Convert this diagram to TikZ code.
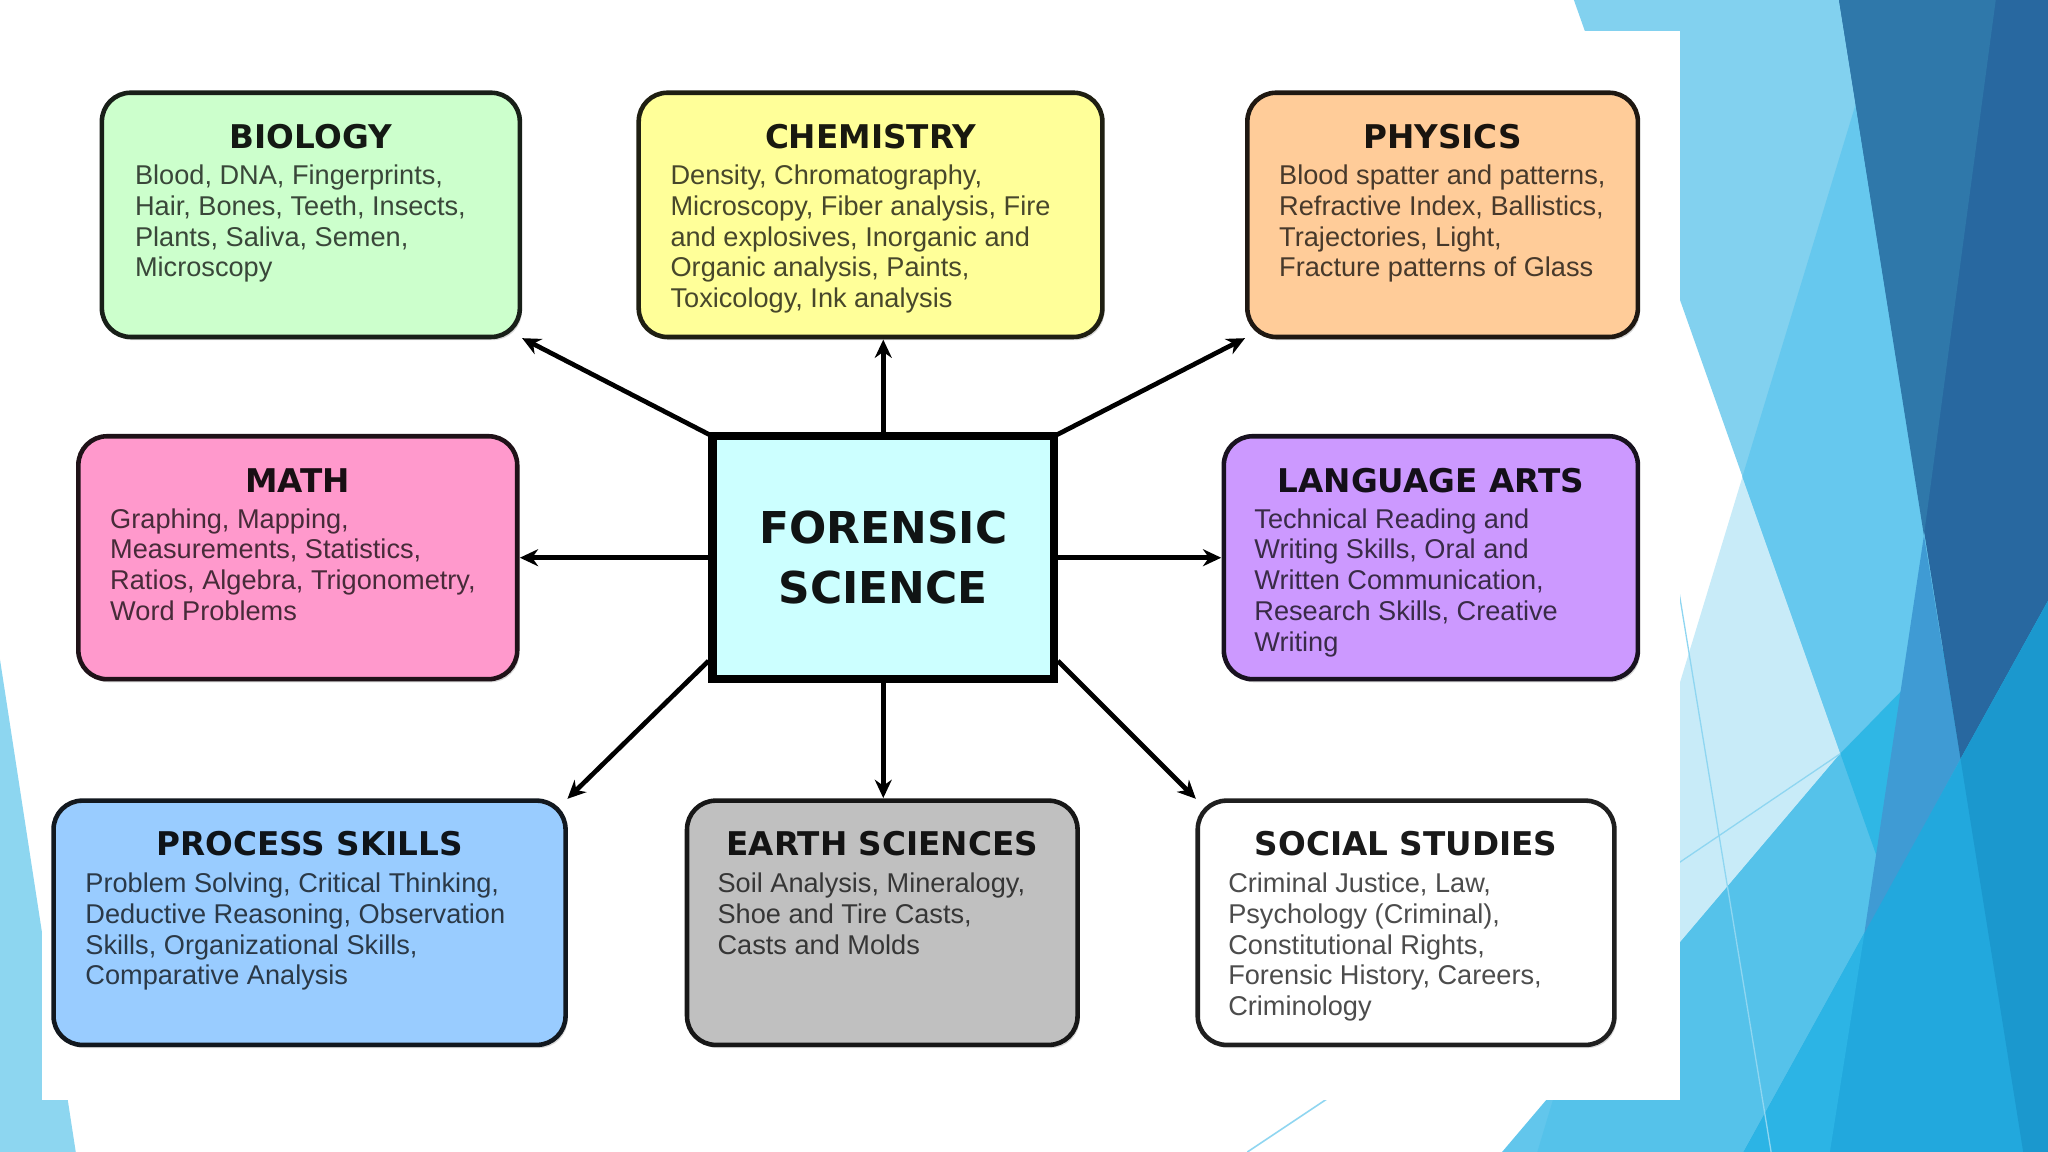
\documentclass[tikz,border=0pt]{standalone}
\usepackage{fontspec}
\setmainfont{Liberation Sans}
\newfontfamily\titlefont{DejaVu Sans}
\usetikzlibrary{arrows.meta,calc,shadows}
\definecolor{cbio}{RGB}{204,255,204}
\definecolor{cchem}{RGB}{255,255,153}
\definecolor{cphys}{RGB}{255,204,153}
\definecolor{cmath}{RGB}{255,153,204}
\definecolor{clang}{RGB}{204,153,255}
\definecolor{cproc}{RGB}{153,204,255}
\definecolor{cearth}{RGB}{192,192,192}
\definecolor{csoc}{RGB}{255,255,255}
\definecolor{ccen}{RGB}{204,255,255}
\definecolor{bgpale}{HTML}{C8EBF8}
\definecolor{bglight}{HTML}{82D1EF}
\definecolor{bgmid}{HTML}{66C8EE}
\definecolor{bgtthree}{HTML}{62C6EC}
\definecolor{bgttwo}{HTML}{55C2EA}
\definecolor{bgcyan}{HTML}{2FB7E5}
\definecolor{bgsteel}{HTML}{3F9BD4}
\definecolor{bgdarka}{HTML}{2F78AA}
\definecolor{bgdarkb}{HTML}{2868A0}
\definecolor{bgbig}{HTML}{22A8DD}
\definecolor{bgbigd}{HTML}{1B98CE}
\definecolor{bgbigl}{HTML}{2CB4E5}
\definecolor{bgleft}{HTML}{8DD6F0}
\definecolor{bgline}{HTML}{8FD6F1}
\begin{document}
\begin{tikzpicture}[x=0.5pt,y=-0.5pt,
  box/.style={draw, rounded corners=11pt, line width=1.75pt, inner sep=0pt, outer sep=0pt,
    drop shadow={shadow xshift=0.8pt,shadow yshift=-1.2pt,opacity=0.3}},
  ttl/.style={anchor=base, inner sep=0pt, font=\titlefont\bfseries\fontsize{12.5pt}{14pt}\selectfont},
  body/.style={anchor=north west, inner sep=0pt, align=left, font=\fontsize{10.4pt}{11.75pt}\selectfont},
  arr/.style={line width=1.8pt, -{Stealth[length=7pt,width=6.5pt]}, shorten >=1pt}]
% ---------- slide background ----------
\useasboundingbox (0,0) rectangle (1568,882);
\fill[white] (0,0) rectangle (1568,882);
\fill[bgpale] (1445,0) -- (1568,0) -- (1568,882) -- (1177,882) -- cycle;
\fill[bglight] (1205,0) -- (1568,0) -- (1568,882) -- (1517,882) -- cycle;
\fill[bgmid] (1445,0) -- (1568,0) -- (1568,882) -- (1517,882) -- (1334,365) -- cycle;
\fill[bgtthree] (1150,882) -- (1409,577) -- (1568,414) -- (1568,882) -- cycle;
\fill[bgttwo] (1191.7,833) -- (1409,577) -- (1568,414) -- (1568,882) -- (1177,882) -- cycle;
\fill[bgcyan] (1409,577) -- (1568,414) -- (1568,882) -- (1517,882) -- cycle;
\fill[bgsteel] (1473,410) -- (1501,581) -- (1427,717) -- cycle;
\fill[bgdarkb] (1408,0) -- (1568,0) -- (1568,460) -- (1501,581) -- cycle;
\fill[bgdarka] (1408,0) -- (1528,0) -- (1473,410) -- cycle;
\fill[bgbig] (1335,882) -- (1568,460) -- (1568,882) -- cycle;
\fill[bgbigd] (1501,581) -- (1568,460) -- (1568,882) -- (1549,882) -- cycle;
\fill[bgbigl] (1335,882) -- (1427.5,714) -- (1401,882) -- cycle;
\draw[bgline, line width=0.5pt] (1280,420) -- (1356,882);
\draw[bgline, line width=0.5pt] (1270,671) -- (1409,577);
\draw[bgline, line width=0.6pt] (1030,832) -- (955,882);
\fill[bgleft] (0,505) -- (58,882) -- (0,882) -- cycle;
% white panel
\fill[white] (32,24) rectangle (1286,842);
% ---------- boxes ----------
\node[box, fill=cbio, draw=cbio!12!black, minimum width=160pt, minimum height=93.5pt] (bio) at (238,164.5) {};
\node[box, fill=cchem, draw=cchem!12!black, minimum width=177.5pt, minimum height=93.5pt] (chem) at (666.5,164.5) {};
\node[box, fill=cphys, draw=cphys!12!black, minimum width=149.5pt, minimum height=93.5pt] (phys) at (1104.5,164.5) {};
\node[box, fill=cmath, draw=cmath!12!black, minimum width=168pt, minimum height=93pt] (math) at (228,427) {};
\node[box, fill=clang, draw=clang!12!black, minimum width=158.5pt, minimum height=93pt] (lang) at (1095.5,427) {};
\node[box, fill=cproc, draw=cproc!12!black, minimum width=196pt, minimum height=93.5pt] (proc) at (237,706.5) {};
\node[box, fill=cearth, draw=cearth!12!black, minimum width=149.5pt, minimum height=93.5pt] (earth) at (675.5,706.5) {};
\node[box, fill=csoc, draw=csoc!12!black, minimum width=159.5pt, minimum height=93.5pt] (soc) at (1076.5,706.5) {};
% titles
\node[ttl, text=cbio!10!black] (bioT) at ($(bio.north)+(0,43)$) {BIOLOGY};
\node[ttl, text=cchem!10!black] (chemT) at ($(chem.north)+(0,43)$) {CHEMISTRY};
\node[ttl, text=cphys!10!black] (physT) at ($(phys.north)+(0,43)$) {PHYSICS};
\node[ttl, text=cmath!10!black] (mathT) at ($(math.north)+(0,43)$) {MATH};
\node[ttl, text=clang!10!black] (langT) at ($(lang.north)+(0,43)$) {LANGUAGE ARTS};
\node[ttl, text=cproc!10!black] (procT) at ($(proc.north)+(0,42)$) {PROCESS SKILLS};
\node[ttl, text=cearth!10!black] (earthT) at ($(earth.north)+(0,42)$) {EARTH SCIENCES};
\node[ttl, text=csoc!10!black] (socT) at ($(soc.north)+(0,42)$) {SOCIAL STUDIES};
% bodies
\node[body, text=cbio!28!black] (bioB) at ($(bio.north west)+(25,55)$)
  {Blood, DNA, Fingerprints,\\Hair, Bones, Teeth, Insects,\\Plants, Saliva, Semen,\\Microscopy};
\node[body, text=cchem!28!black] (chemB) at ($(chem.north west)+(24,55)$)
  {Density, Chromatography,\\Microscopy, Fiber analysis, Fire\\and explosives, Inorganic and\\Organic analysis, Paints,\\Toxicology, Ink analysis};
\node[body, text=cphys!28!black] (physB) at ($(phys.north west)+(24,55)$)
  {Blood spatter and patterns,\\Refractive Index, Ballistics,\\Trajectories, Light,\\Fracture patterns of Glass};
\node[body, text=cmath!28!black] (mathB) at ($(math.north west)+(24,55)$)
  {Graphing, Mapping,\\Measurements, Statistics,\\Ratios, Algebra, Trigonometry,\\Word Problems};
\node[body, text=clang!28!black] (langB) at ($(lang.north west)+(23,55)$)
  {Technical Reading and\\Writing Skills, Oral and\\Written Communication,\\Research Skills, Creative\\Writing};
\node[body, text=cproc!28!black] (procB) at ($(proc.north west)+(24,55)$)
  {Problem Solving, Critical Thinking,\\Deductive Reasoning, Observation\\Skills, Organizational Skills,\\Comparative Analysis};
\node[body, text=cearth!28!black] (earthB) at ($(earth.north west)+(23,55)$)
  {Soil Analysis, Mineralogy,\\Shoe and Tire Casts,\\Casts and Molds};
\node[body, text=csoc!30!black] (socB) at ($(soc.north west)+(23,55)$)
  {Criminal Justice, Law,\\Psychology (Criminal),\\Constitutional Rights,\\Forensic History, Careers,\\Criminology};
% centre
\node[draw, line width=3.2pt, fill=ccen, minimum width=130.75pt, minimum height=93pt,
  inner sep=0pt, outer sep=0pt, align=center,
  font=\titlefont\bfseries\fontsize{16.8pt}{23pt}\selectfont, text=ccen!8!black] (c) at (676.25,427) {FORENSIC\\SCIENCE};
% ---------- arrows ----------
\coordinate (cl) at ($(c.south west)+(-3,-14)$);
\coordinate (cr) at ($(c.south east)+(3,-14)$);
\draw[arr] (c.north west) -- (bio.south east);
\draw[arr] (c.north) -- (c.north |- chem.south);
\draw[arr] (c.north east) -- (phys.south west);
\draw[arr] (c.west) -- (math.east);
\draw[arr] (c.east) -- (lang.west);
\draw[arr] (cl) -- (proc.north east);
\draw[arr] (c.south) -- (c.south |- earth.north);
\draw[arr] (cr) -- (soc.north west);
\end{tikzpicture}
\end{document}
